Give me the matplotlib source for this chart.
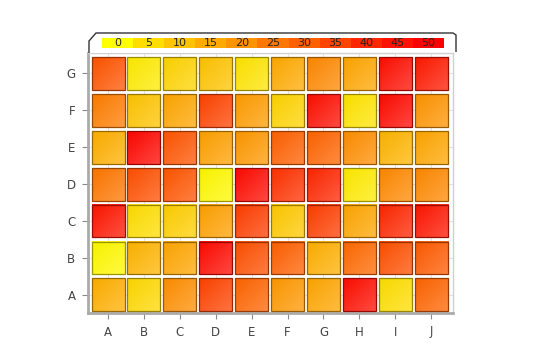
import numpy as np
import matplotlib
matplotlib.use("Agg")
import matplotlib.pyplot as plt
from matplotlib.colors import LinearSegmentedColormap
from matplotlib.patches import Rectangle, Polygon

cols = ["A", "B", "C", "D", "E", "F", "G", "H", "I", "J"]
rows = ["A", "B", "C", "D", "E", "F", "G"]

# values per row, bottom (A) to top (G), columns A..J
row_a = [14, 6, 21, 35, 29, 19, 16, 46, 5, 29]
row_b = [1, 13, 16, 47, 33, 30, 14, 28, 33, 31]
row_c = [44, 5, 8, 17, 36, 9, 36, 16, 40, 44]
row_d = [25, 33, 32, 1, 47, 38, 40, 3, 22, 22]
row_e = [14, 48, 32, 17, 19, 30, 29, 21, 13, 16]
row_f = [24, 10, 16, 35, 18, 7, 46, 4, 47, 20]
row_g = [32, 3, 7, 10, 4, 15, 22, 16, 46, 43]
values = np.array([row_a, row_b, row_c, row_d, row_e, row_f, row_g])

legend_ticks = [0, 5, 10, 15, 20, 25, 30, 35, 40, 45, 50]
legend_colors = ["#ffff00", "#ffdd00", "#ffc400", "#ffaa00", "#ff9400", "#ff7700",
                 "#ff6000", "#ff4400", "#ff2600", "#ff1200", "#ff0000"]
cmap = LinearSegmentedColormap.from_list("yr", legend_colors)

fig = plt.figure(figsize=(5.4, 3.5), dpi=100)
W, H = 540, 350
ax = fig.add_axes([88 / W, 1 - 313 / H, (453 - 88) / W, (313 - 53) / H])

ax.set_xticks(range(len(cols)))
ax.set_xticklabels(cols)
ax.set_yticks(range(len(rows)))
ax.set_yticklabels(rows)
ax.grid(True, color="#e2e2e2", lw=0.8, zorder=0)
ax.set_axisbelow(True)
ax.tick_params(colors="#888888", labelcolor="#444444", labelsize=8.5, length=4, width=0.8, pad=5)
for s in ["left", "bottom"]:
    ax.spines[s].set_color("#aaaaaa")
    ax.spines[s].set_linewidth(2)
for s in ["right", "top"]:
    ax.spines[s].set_color("#d0d0d0")
    ax.spines[s].set_linewidth(1)

# each cell: small gradient image, lighter towards bottom right
cw, ch = 0.92, 0.89
gx, gy = np.meshgrid(np.linspace(0, 1, 24), np.linspace(0, 1, 24))
t = (gx + gy) / 2.0
for r in range(len(rows)):
    for c in range(len(cols)):
        base = np.array(cmap(values[r, c] / 50.0)[:3])
        dark = base * 0.97
        light = base * 0.75 + 0.25
        img = dark[None, None, :] * (1 - t[..., None]) + light[None, None, :] * t[..., None]
        x0, y0 = c - cw / 2, r - ch / 2
        ax.imshow(img, extent=(x0, x0 + cw, y0, y0 + ch), origin="upper",
                  aspect="auto", interpolation="bilinear", zorder=2)
        ax.add_patch(Rectangle((x0, y0), cw, ch, fill=False,
                               edgecolor=base * 0.6, lw=0.9, zorder=3))
ax.set_xlim(-0.56, 9.61)
ax.set_ylim(-0.49, 6.55)

# legend strip on top
lax = fig.add_axes([0, 0, 1, 1], zorder=5)
lax.set_xlim(0, W)
lax.set_ylim(H, 0)
lax.axis("off")
box = Polygon([[89, 53], [89, 41], [96, 33], [453, 33], [456, 35], [456, 52]],
              closed=False, facecolor="white", edgecolor="#333333", lw=1)
lax.add_patch(box)
sw = (444 - 102) / len(legend_ticks)
for i, v in enumerate(legend_ticks):
    lax.add_patch(Rectangle((102 + i * sw, 38), sw, 10, facecolor=legend_colors[i],
                            edgecolor="none"))
    lax.text(102 + (i + 0.5) * sw, 43.5, str(v), ha="center", va="center",
             fontsize=8, color="#222222")

fig.savefig("out.png", dpi=100)
